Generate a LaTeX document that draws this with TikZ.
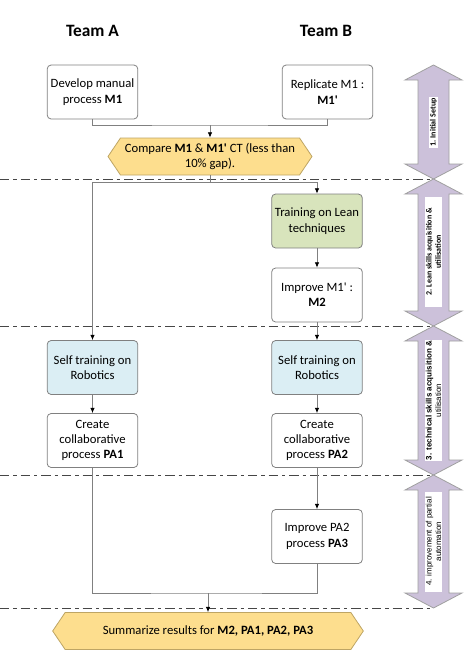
\documentclass[tikz,border=0pt]{standalone}
\usepackage{fontspec}
\setmainfont{Carlito}
\newfontfamily\arialfont{Liberation Sans}
\usetikzlibrary{arrows.meta,shapes.symbols}

\tikzset{every picture/.style={line width=0.75pt}}
\tikzset{
  procbox/.style={draw={rgb, 255:red, 128; green, 128; blue, 128 }, line width=0.6pt, rounded corners=3pt, minimum width=68pt, minimum height=40.5pt, inner sep=1pt, align=center, font=\fontsize{9.5}{11.5}\selectfont},
  leanbox/.style={procbox, fill={rgb, 255:red, 216; green, 228; blue, 188 }},
  robbox/.style={procbox, fill={rgb, 255:red, 219; green, 238; blue, 244 }},
  hexbox/.style={signal, signal to=west and east, signal pointer angle=112, draw={rgb, 255:red, 190; green, 165; blue, 100 }, line width=0.6pt, fill={rgb, 255:red, 253; green, 222; blue, 142 }, minimum height=27.75pt, inner sep=1pt, align=center, font=\fontsize{9.5}{11.5}\selectfont},
  conn/.style={draw={rgb, 255:red, 128; green, 128; blue, 128 }, line width=0.6pt},
  arr/.style={conn, -{Latex[length=4pt,width=3.5pt,color=black]}},
  phaseline/.style={draw={rgb, 255:red, 70; green, 70; blue, 70 }, line width=0.75pt, dash pattern=on 7pt off 3pt on 2.5pt off 3pt},
  phasearrow/.style={draw={rgb, 255:red, 160; green, 160; blue, 160 }, line width=0.6pt, fill={rgb, 255:red, 204; green, 193; blue, 218 }},
  phaselabel/.style={fill=white, rotate=90, inner sep=1pt, align=center, font=\fontsize{6}{7}\selectfont}
}

\begin{document}
\begin{tikzpicture}[x=0.75pt,y=0.75pt,yscale=-1,xscale=1]
	\useasboundingbox (0,0) rectangle (464,650);

	%Dashed Lines between phases
	\draw [phaseline] (0,179) -- (433.5,179) ;
	\draw [phaseline] (0,326) -- (433.5,326) ;
	\draw [phaseline] (0,475) -- (433.5,475) ;
	\draw [phaseline] (0,608) -- (433.5,608) ;

	%Double Arrow [phase 1]
	\draw [phasearrow] (433.5,65) -- (462,80) -- (449,80) -- (449,164) -- (462,164) -- (433.5,179) -- (405,164) -- (418,164) -- (418,80) -- (405,80) -- cycle ;
	%Double Arrow [phase 2]
	\draw [phasearrow] (433.5,179) -- (462,194) -- (449,194) -- (449,311) -- (462,311) -- (433.5,326) -- (405,311) -- (418,311) -- (418,194) -- (405,194) -- cycle ;
	%Double Arrow [phase 3]
	\draw [phasearrow] (433.5,326) -- (462,341) -- (449,341) -- (449,460) -- (462,460) -- (433.5,475) -- (405,460) -- (418,460) -- (418,341) -- (405,341) -- cycle ;
	%Double Arrow [phase 4]
	\draw [phasearrow] (433.5,475) -- (462,490) -- (449,490) -- (449,593) -- (462,593) -- (433.5,608) -- (405,593) -- (418,593) -- (418,490) -- (405,490) -- cycle ;

	% Phase Labels
	\node [phaselabel] (ph1) at (433.5,122.5) {\bfseries 1. Initial Setup};
	\node [phaselabel, minimum width=82pt] (ph2) at (433.5,252) {\bfseries 2. Lean skills acquisition \&\\\bfseries utilisation};
	\node [phaselabel, minimum width=84pt, font=\fontsize{6}{7}\arialfont] (ph3) at (433.5,400.5) {\bfseries 3. technical skills acquisition \&\\utilisation};
	\node [phaselabel, minimum width=75pt, font=\fontsize{6}{7}\arialfont] (ph4) at (433.5,541.5) {4. improvement of partial\\automation};

	% Team Titles
	\node [font=\fontsize{13}{15}\selectfont\bfseries] (teamA) at (92.5,31) {Team A};
	\node [font=\fontsize{13}{15}\selectfont\bfseries] (teamB) at (326,31) {Team B};

	% Process Nodes
	\node [procbox] (m1) at (92.5,92) {Develop manual\\process \textbf{M1}};
	\node [procbox] (m1p) at (327.5,92) {Replicate M1 :\\\textbf{M1\textquotesingle}};
	\node [hexbox, minimum width=153pt] (cmp) at (210,156.5) {Compare \textbf{M1} \& \textbf{M1\textquotesingle} CT (less than\\10\% gap).};
	\node [leanbox] (lean) at (317,221) {Training on Lean\\techniques};
	\node [procbox] (imp) at (317,295) {Improve M1\textquotesingle{} :\\\textbf{M2}};
	\node [robbox] (robA) at (92.5,367.5) {Self training on\\Robotics};
	\node [robbox] (robB) at (317,367.5) {Self training on\\Robotics};
	\node [procbox] (pa1) at (92.5,440.5) {Create\\collaborative\\process \textbf{PA1}};
	\node [procbox] (pa2) at (317,440.5) {Create\\collaborative\\process \textbf{PA2}};
	\node [procbox] (pa3) at (317,536.5) {Improve PA2\\process \textbf{PA3}};
	\node [hexbox, minimum width=233pt] (sum) at (208,631) {Summarize results for \textbf{M2, PA1, PA2, PA3}};

	% Junctions
	\coordinate (j1) at (210,125);
	\coordinate (j2) at (210,182);
	\coordinate (j3) at (208,593);

	% Connectors
	\draw [conn] (m1.south) |- (j1) -| (m1p.south) ;
	\draw [arr] (j1) -- (cmp.north) ;
	\draw [arr] (cmp.south) -- (j2) -| (lean.north) ;
	\draw [arr] (j2) -| (robA.north) ;
	\draw [arr] (lean) -- (imp) ;
	\draw [arr] (imp) -- (robB) ;
	\draw [arr] (robA) -- (pa1) ;
	\draw [arr] (robB) -- (pa2) ;
	\draw [arr] (pa2) -- (pa3) ;
	\draw [conn] (pa1.south) |- (j3) -| (pa3.south) ;
	\draw [arr] (j3) -- (sum.north) ;

\end{tikzpicture}
\end{document}
